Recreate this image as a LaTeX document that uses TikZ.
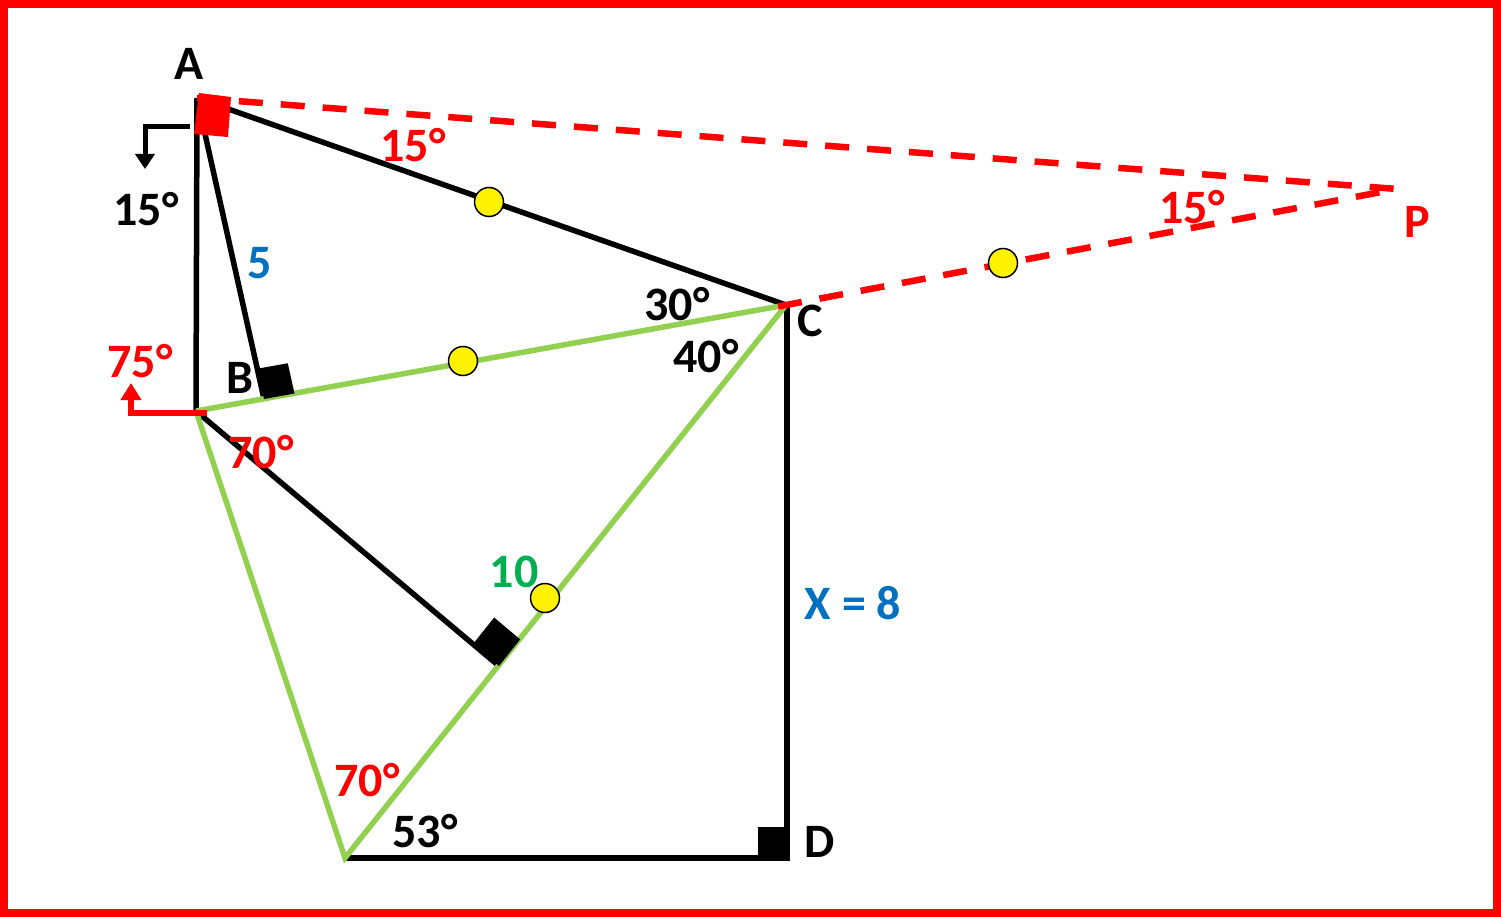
\documentclass[tikz,border=0pt]{standalone}
\usepackage{fontspec}
\setmainfont{Carlito}
\usetikzlibrary{calc,arrows.meta}
\definecolor{myred}{RGB}{255,0,0}
\definecolor{lgreen}{RGB}{146,208,80}
\definecolor{dgreen}{RGB}{0,176,80}
\definecolor{myblue}{RGB}{0,112,192}
\begin{document}
\begin{tikzpicture}[x=1pt,y=-1pt,
  lbl/.style={font=\fontsize{48}{52}\selectfont\bfseries, inner sep=0pt},
  blk/.style={line width=5.5pt, black, line join=miter},
  grn/.style={line width=5.5pt, lgreen, line join=miter},
  reddash/.style={line width=6.5pt, myred, dash pattern=on 24pt off 18pt},
  dot/.style={circle, fill=yellow, draw=black, line width=1.5pt, minimum size=29pt, inner sep=0pt}]
\useasboundingbox (0,0) rectangle (1501,917);
% points
\coordinate (A) at (197,98);
\coordinate (E) at (196,411);
\coordinate (B) at (264,399);
\coordinate (C) at (786,305);
\coordinate (Ctop) at (787,302);
\coordinate (D) at (787,858);
\coordinate (F) at (345,858);
\coordinate (G) at (499,666);
\coordinate (P) at (1397,189);
\coordinate (Cq) at ($(C)!-8pt!(P)$);
% black lines
\draw[blk] (A) -- (E);
\draw[blk] (A) -- (B);
\draw[blk] (A) -- (C);
\draw[blk] (E) -- (G);
\draw[blk, line width=6pt] (Ctop) -- (D) -- (F);
% green lines
\draw[grn] (E) -- (C);
\draw[grn] (E) -- (F) -- (C);
% red dashed
\draw[reddash] (A) -- (P);
\draw[reddash] (Cq) -- (P);
% right angle markers
\fill[myred] (199,93) -- (231,97) -- (228,137) -- (194,134) -- cycle;
\coordinate (B1) at ($(B)!31pt!(C)$);
\coordinate (B2) at ($(B)!31pt!(A)$);
\coordinate (B3) at ($(B1)+(B2)-(B)$);
\fill (B) -- (B1) -- (B3) -- (B2) -- cycle;
\coordinate (G1) at ($(G)!34pt!(C)$);
\coordinate (G2) at ($(G)!34pt!(E)$);
\coordinate (G3) at ($(G1)+(G2)-(G)$);
\fill (G) -- (G1) -- (G3) -- (G2) -- cycle;
\fill ($(D)+(-29,-31)$) rectangle ($(D)+(-2,-3)$);
% bent arrows
\coordinate (k1) at (190,127);
\coordinate (k2) at (145,127);
\coordinate (k3) at (145,169);
\draw[line width=5pt, line join=miter, -{Triangle[width=19pt,length=15pt]}] (k1) -- (k2) -- (k3);
\coordinate (r1) at (207,413);
\coordinate (r2) at (131,413);
\coordinate (r3) at (131,383);
\draw[myred, line width=6pt, line join=miter, -{Triangle[width=20pt,length=17pt]}] (r1) -- (r2) -- (r3);
% yellow circles
\node[dot] (y1) at (489,202) {};
\node[dot] (y2) at (463,361) {};
\node[dot] (y3) at (1003,263) {};
\node[dot] (y4) at (545,598) {};
% labels
\node[lbl] (lA) at (189,64) {A};
\node[lbl, myred] (l15a) at (413,145) {15°};
\node[lbl] (l15b) at (146,209) {15°};
\node[lbl, myblue] (l5) at (260,263) {5};
\node[lbl] (l30) at (677,304) {30°};
\node[lbl] (lC) at (810,321) {C};
\node[lbl] (l40) at (706,356) {40°};
\node[lbl, myred] (l75) at (140,361) {75°};
\node[lbl] (lB) at (240,378) {B};
\node[lbl, myred] (l70a) at (261,452) {70°};
\node[lbl, dgreen] (l10) at (514,572) {10};
\node[lbl, myblue] (lX) at (853,603) {X = 8};
\node[lbl, myred] (l70b) at (367,780) {70°};
\node[lbl] (l53) at (425,831) {53°};
\node[lbl] (lD) at (820,842) {D};
\node[lbl, myred] (l15c) at (1192,207) {15°};
\node[lbl, myred] (lP) at (1417,222) {P};
% border
\draw[myred, line width=8pt] (4,4) rectangle (1497,913);
\end{tikzpicture}
\end{document}
